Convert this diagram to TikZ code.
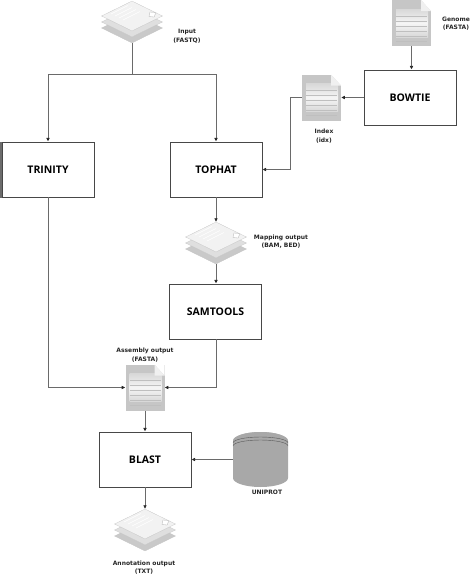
\documentclass[tikz,border=0pt]{standalone}
\usepackage{fontspec}
\setmainfont{Open Sans}
\newfontfamily\labelfont{DejaVu Sans}
\usetikzlibrary{shapes.geometric,arrows.meta}
\definecolor{linegray}{HTML}{6A6A6A}
\definecolor{sheetgray}{HTML}{C6C6C6}
\tikzset{
    toolbox/.style={draw=black!72, line width=0.95pt, fill=white, minimum width=92pt, minimum height=55pt, inner sep=0pt, font=\fontsize{10.5}{13}\selectfont\bfseries},
    filelabel/.style={font=\labelfont\fontsize{6}{8.6}\selectfont\bfseries, align=center, text=black!85, inner sep=0pt},
    flow/.style={draw=linegray, line width=0.95pt},
    flowarrow/.style={flow, -{Latex[length=3.6pt,width=3.8pt,black!85]}},
    docnode/.style={minimum width=39pt, minimum height=46pt, inner sep=0pt, fill=sheetgray,
        path picture={
            \shade[top color=sheetgray, bottom color=sheetgray, middle color=white!92!gray] ([xshift=4pt,yshift=-9pt]path picture bounding box.north west) rectangle ([xshift=-3pt,yshift=9pt]path picture bounding box.south east);
            \fill[white] ([yshift=-11pt]path picture bounding box.north east) -- ([xshift=-10pt]path picture bounding box.north east) -- ([xshift=1pt,yshift=1pt]path picture bounding box.north east) -- cycle;
            \fill[gray!12] ([xshift=-10pt]path picture bounding box.north east) -- ([xshift=-10pt,yshift=-11pt]path picture bounding box.north east) -- ([yshift=-11pt]path picture bounding box.north east) -- cycle;
            \foreach \dy in {16,21,26,31,36,41}
                \draw[gray!50, line width=0.55pt] ([xshift=4pt,yshift=-\dy pt]path picture bounding box.north west) -- ([xshift=-4pt,yshift=-\dy pt]path picture bounding box.north east);
        }},
    sheetnode/.style={diamond, minimum width=61pt, minimum height=30pt, inner sep=0pt, draw=gray!45, line width=0.3pt},
}
% three stacked sheets, the lowest one is named
\newcommand{\sheetstack}[3]{
    \node[sheetnode, fill=gray!42] (#1) at (#2,#3+12) {};
    \node[sheetnode, fill=gray!25] (#1mid) at (#2,#3+6) {};
    \node[sheetnode, fill=gray!10] (#1top) at (#2,#3) {};
    \foreach \off in {-8,-4,0,4,8}
        \draw[white, line width=0.5pt] (#2-17+\off,#3+\off/2) -- (#2+\off,#3-8.5+\off/2);
    \fill[white, draw=gray!60, line width=0.3pt] (#2+18,#3-4) -- (#2+24,#3-3.5) -- (#2+22,#3+1) -- (#2+17,#3+0.5) -- cycle;
}
\begin{document}
\begin{tikzpicture}[x=1pt, y=-1pt]
    \useasboundingbox (0,0) rectangle (474,579);
    % Tools
    \fill[gray!85!black] (0,142) rectangle (2.5,197.5);
    \node[toolbox] (trinity) at (48,169.5) {TRINITY};
    \node[toolbox] (tophat) at (216,169.5) {TOPHAT};
    \node[toolbox] (bowtie) at (410,97.5) {BOWTIE};
    \node[toolbox] (samtools) at (215.5,311.5) {SAMTOOLS};
    \node[toolbox] (blast) at (145,459.5) {BLAST};
    % Files
    \sheetstack{input}{132}{16}
    \sheetstack{mapping}{216}{237}
    \sheetstack{annotation}{145}{524}
    \node[docnode] (genome) at (411.5,23) {};
    \node[docnode] (index) at (321.5,97.5) {};
    \node[docnode] (assembly) at (145,387.5) {};
    % Database
    \fill[gray!68] (233,441) arc[start angle=180, end angle=360, x radius=27.5, y radius=9] -- (288,478) arc[start angle=0, end angle=180, x radius=27.5, y radius=9] -- cycle;
    \fill[gray!68] (260.5,441) ellipse[x radius=27.5, y radius=9];
    \draw[gray!70!black, line width=0.4pt] (233,443) arc[start angle=180, end angle=360, x radius=27.5, y radius=6];
    \draw[gray!70!black, line width=0.4pt] (233,446) arc[start angle=180, end angle=360, x radius=27.5, y radius=6];
    \node[minimum width=55pt, minimum height=55pt, inner sep=0pt] (uniprot) at (260.5,459.5) {};
    % Labels
    \node[filelabel] (inputlabel) at (187,36) {Input\\(FASTQ)};
    \node[filelabel] (genomelabel) at (456,23.5) {Genome\\(FASTA)};
    \node[filelabel] (indexlabel) at (324,136) {Index\\(idx)};
    \node[filelabel] (mappinglabel) at (281,241.5) {Mapping output\\(BAM, BED)};
    \node[filelabel] (assemblylabel) at (145,355) {Assembly output\\(FASTA)};
    \node[filelabel] (uniprotlabel) at (267,492) {UNIPROT};
    \node[filelabel] (annotationlabel) at (144,567.5) {Annotation output\\(TXT)};
    % Connectors
    \coordinate (split) at (132,74);
    \coordinate (indexbend) at (290,97.5);
    \coordinate (trinitybend) at (48,387.5);
    \coordinate (samtoolsbend) at (216,387.5);
    \draw[flow] (input.south) -- (split);
    \draw[flowarrow] (split) -| (trinity.north);
    \draw[flowarrow] (split) -| (tophat.north);
    \draw[flowarrow] (genome.south) -- (bowtie.north -| genome.south);
    \draw[flowarrow] (bowtie.west) -- (index.east);
    \draw[flow] (index.west) -- (indexbend);
    \draw[flowarrow] (indexbend) |- (tophat.east);
    \draw[flowarrow] (tophat.south) -- (mappingtop.north);
    \draw[flowarrow] (mapping.south) -- (samtools.north -| mapping.south);
    \draw[flow] (trinity.south) -- (trinitybend);
    \draw[flowarrow] (trinitybend) -- (assembly.west);
    \draw[flow] (samtools.south -| samtoolsbend) -- (samtoolsbend);
    \draw[flowarrow] (samtoolsbend) -- (assembly.east);
    \draw[flowarrow] (assembly.south) -- (blast.north);
    \draw[flowarrow] (uniprot.west) -- (blast.east);
    \draw[flowarrow] (blast.south) -- (annotationtop.north);
\end{tikzpicture}
\end{document}
